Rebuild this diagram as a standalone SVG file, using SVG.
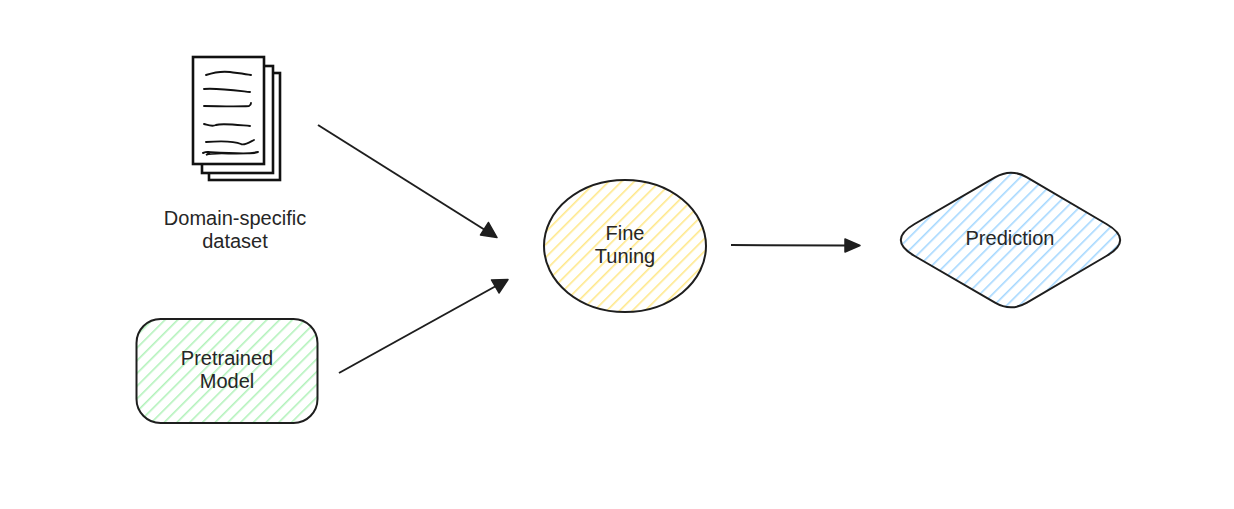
<svg xmlns="http://www.w3.org/2000/svg" width="1234" height="509" viewBox="0 0 1234 509">
<style>
text{font-family:"Liberation Sans",Arial,sans-serif;font-size:20px;fill:#262626;text-anchor:middle}
.edge{fill:none;stroke:#1e1e1e;stroke-width:2}
.head{fill:#1e1e1e;stroke:#1e1e1e;stroke-width:1.5;stroke-linejoin:round}
.outline{stroke:#1e1e1e;stroke-width:2}
.sheet{fill:#fff;stroke:#111;stroke-width:2.6}
.ink{fill:none;stroke:#111;stroke-width:1.9;stroke-linecap:round}
</style>
<defs>
<pattern id="hg" width="9" height="9" patternUnits="userSpaceOnUse" patternTransform="rotate(45 0 0)"><rect width="1.6" height="9" fill="#b2f2bb"/></pattern>
<pattern id="hy" width="9" height="9" patternUnits="userSpaceOnUse" patternTransform="rotate(45 0 0)"><rect width="1.6" height="9" fill="#ffe88a"/></pattern>
<pattern id="hb" width="9" height="9" patternUnits="userSpaceOnUse" patternTransform="rotate(45 0 0)"><rect width="1.6" height="9" fill="#a5d8ff"/></pattern>
</defs>
<rect width="1234" height="509" fill="#fff"/>
<g id="connectors">
<line class="edge" x1="318" y1="125" x2="485" y2="230"/>
<polygon class="head" points="497,237.500 480.500,235 488.500,222.500"/>
<line class="edge" x1="339" y1="373" x2="496" y2="286"/>
<polygon class="head" points="508,279.500 499,293 491.500,280"/>
<line class="edge" x1="731" y1="245" x2="846" y2="245.500"/>
<polygon class="head" points="860,245.500 845,252 845,239"/>
</g>
<g id="dataset">
<rect class="sheet" x="209" y="73" width="71" height="107"/>
<rect class="sheet" x="202" y="66" width="71" height="107"/>
<rect class="sheet" x="193" y="57" width="71" height="107"/>
<path class="ink" d="M206 75C215 72 222 71 230 72C237 73 245 74 251 75"/>
<path class="ink" d="M204 89C217 88 232 90 250 92"/>
<path class="ink" d="M204 106C217 106 235 107 249 106Q251 105 251 103"/>
<path class="ink" d="M204 124C208 125 212 127 216 125C222 123 238 125 250 126"/>
<path class="ink" d="M206 142C220 141 234 141 241 144C244 146 250 142 254 140"/>
<path class="ink" d="M203 153C208 151 212 152 206 155C215 151 240 156 258 152M208 152C225 153 240 154 255 153"/>
<text x="235" y="225">Domain-specific</text>
<text x="235" y="248">dataset</text>
</g>
<g id="pretrained">
<rect class="outline" x="136.500" y="319" width="181" height="104" rx="24" fill="url(#hg)"/>
<text x="227" y="365">Pretrained</text>
<text x="227" y="388">Model</text>
</g>
<g id="fine-tuning">
<ellipse class="outline" cx="625" cy="246" rx="81" ry="66" fill="url(#hy)"/>
<text x="625" y="240">Fine</text>
<text x="625" y="263">Tuning</text>
</g>
<g id="prediction">
<path class="outline" d="M995 177.300Q1011 168 1027 177.300L1106.400 224Q1134 240 1106.400 256L1027 302.700Q1011 312 995 302.700L914.600 256Q887 240 914.600 224Z" fill="url(#hb)"/>
<text x="1010" y="245">Prediction</text>
</g>
</svg>
